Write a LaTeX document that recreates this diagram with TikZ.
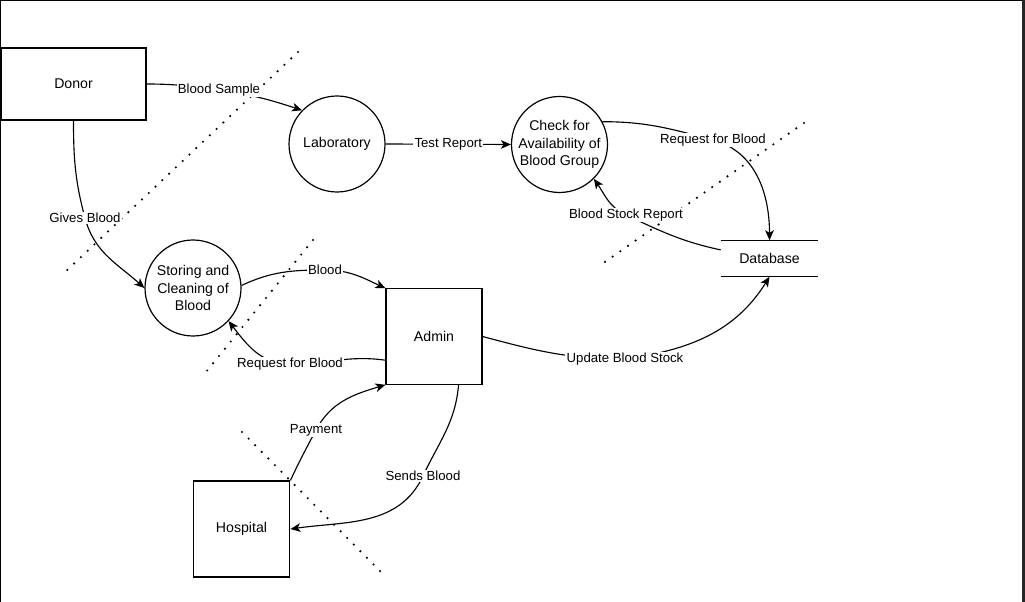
\documentclass[tikz,border=0pt]{standalone}
\usepackage{fontspec}
\setmainfont{Liberation Sans}
\usetikzlibrary{arrows.meta}
\begin{document}
\begin{tikzpicture}[x=0.75pt,y=-0.75pt,
  every node/.style={font=\fontsize{9.9}{11.5}\selectfont},
  nfont/.style={font=\fontsize{10.6}{13}\selectfont},
  ent/.style={draw,line width=0.9pt,rectangle,inner sep=0pt,nfont},
  proc/.style={draw,line width=0.9pt,circle,minimum size=72pt,inner sep=0pt,align=center,nfont},
  store/.style={rectangle,minimum width=72.75pt,minimum height=27pt,inner sep=0pt,nfont},
  flow/.style={line width=0.85pt,-{Stealth[length=7.5pt,width=6.5pt,inset=2pt]}},
  lbl/.style={fill=white,inner sep=1pt},
  bound/.style={line width=1.8pt,dash pattern=on 0pt off 7pt,line cap=round}]
\useasboundingbox (0,0) rectangle (1025,602);
% frame
\draw[line width=1pt] (0.5,602) -- (0.5,0.7) -- (1023,0.7);
\draw[line width=1.8pt,black!85] (1023.3,0) -- (1023.3,602);
% nodes
\node[ent,minimum width=108.75pt,minimum height=54pt] (donor) at (73.5,84) {Donor};
\node[proc] (lab) at (337,144) {Laboratory};
\node[proc] (chk) at (559.5,144.5) {Check for\\Availability of\\Blood Group};
\node[proc] (stor) at (193,288) {Storing and\\Cleaning of\\Blood};
\node[store] (db) at (769.5,258.5) {Database};
\draw[line width=0.9pt] (db.north west) -- (db.north east);
\draw[line width=0.9pt] (db.south west) -- (db.south east);
\node[ent,minimum width=72pt,minimum height=71.5pt] (admin) at (434,336.5) {Admin};
\node[ent,minimum width=72.5pt,minimum height=72pt] (hosp) at (241.5,529) {Hospital};
% boundaries
\draw[bound] (298,52) -- (62,275);
\draw[bound] (804,123) -- (602,264);
\draw[bound] (313,240) -- (206,372);
\draw[bound] (242,432) -- (385,576);
% flows
\draw[flow] (donor.east) to[out=0,in=172] (219,90) node[lbl] {Blood Sample} to[out=-8,in=162] (lab.136);
\draw[flow] (donor.south) to[out=-90,in=105] (85,218) node[lbl] {Gives Blood} to[out=-75,in=138] (stor.180);
\draw[flow] (lab.east) -- node[lbl] {Test Report} (chk.west);
\draw[flow] (chk.28) to[out=0,in=165] (713,140) node[lbl] {Request for Blood} to[out=-15,in=90] (db.north);
\draw[flow] (db.170) to[out=168,in=-25] (626,215) node[lbl] {Blood Stock Report} to[out=155,in=-55] (chk.-45);
\draw[flow] (stor.3) to[out=25,in=180] (325,270) node[lbl] {Blood} to[out=0,in=155] (admin.north west);
\draw[flow] (admin.206) to[out=172,in=0] (290,364) node[lbl] {Request for Blood} to[out=180,in=-52] (stor.-43);
\draw[flow] (admin.east) to[out=-15,in=180] (625,359) node[lbl] {Update Blood Stock} to[out=8,in=-122] (db.south);
\draw[flow] (hosp.north east) to[out=65,in=-118] (316,430) node[lbl] {Payment} to[out=62,in=197] (admin.south west);
\draw[flow] (admin.-63) to[out=-95,in=65] (423,476) node[lbl] {Sends Blood} to[out=-115,in=8] (hosp.east);
\end{tikzpicture}
\end{document}
